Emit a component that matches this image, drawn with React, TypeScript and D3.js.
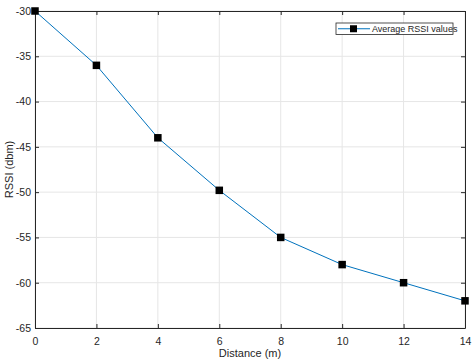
import React, { useEffect, useRef } from 'react';
import * as d3 from 'd3';

const distances = [0, 2, 4, 6, 8, 10, 12, 14];
const rssiValues = [-30, -36, -44, -49.8, -55, -58, -60, -62];
const xTicks = [0, 2, 4, 6, 8, 10, 12, 14];
const yTicks = [-30, -35, -40, -45, -50, -55, -60, -65];
const seriesName = 'Average RSSI values';

export default function App() {
  const ref = useRef<SVGSVGElement>(null);

  useEffect(() => {
    const svgWidth = 474, svgHeight = 361;
    const pad = { top: 11, bottom: 33, left: 35, right: 9 };
    const svg = d3.select(ref.current).attr('width', svgWidth).attr('height', svgHeight);
    svg.selectAll('*').remove();

    const width = svgWidth - pad.left - pad.right;
    const height = svgHeight - pad.top - pad.bottom;
    const axisColor = '#262626';
    const font = 'Liberation Sans, Arial, sans-serif';

    svg.append('rect').attr('width', svgWidth).attr('height', svgHeight).attr('fill', '#fff');

    const graph = svg.append('g').attr('transform', 'translate(' + pad.left + ',' + pad.top + ')');

    const scaleX = d3.scaleLinear().domain([0, 14]).range([0, width]);
    const scaleY = d3.scaleLinear().domain([-65, -30]).range([height, 0]);

    // grid
    graph.append('g').selectAll('line').data(xTicks).enter().append('line')
      .attr('x1', d => scaleX(d)).attr('x2', d => scaleX(d))
      .attr('y1', 0).attr('y2', height)
      .attr('stroke', '#e6e6e6').attr('stroke-width', 1);
    graph.append('g').selectAll('line').data(yTicks).enter().append('line')
      .attr('y1', d => scaleY(d)).attr('y2', d => scaleY(d))
      .attr('x1', 0).attr('x2', width)
      .attr('stroke', '#e6e6e6').attr('stroke-width', 1);

    // box with ticks on all sides
    const tk = 4;
    const plain = (d: any) => String(d);
    const xb = graph.append('g').attr('transform', 'translate(0,' + height + ')')
      .call(d3.axisBottom(scaleX).tickValues(xTicks).tickSize(-tk).tickPadding(10).tickSizeOuter(0).tickFormat(plain));
    const xt = graph.append('g')
      .call(d3.axisTop(scaleX).tickValues(xTicks).tickSize(-tk).tickFormat(() => '').tickSizeOuter(0));
    const yl = graph.append('g')
      .call(d3.axisLeft(scaleY).tickValues(yTicks).tickSize(-tk).tickPadding(4).tickSizeOuter(0).tickFormat(plain));
    const yr = graph.append('g').attr('transform', 'translate(' + width + ',0)')
      .call(d3.axisRight(scaleY).tickValues(yTicks).tickSize(-tk).tickFormat(() => '').tickSizeOuter(0));
    [xb, xt, yl, yr].forEach(a => {
      a.selectAll('path').attr('stroke', axisColor);
      a.selectAll('line').attr('stroke', axisColor);
      a.selectAll('text').attr('fill', axisColor).style('font-family', font).style('font-size', '10.5px');
    });

    // line
    const line = d3.line<number>()
      .x((d, i) => scaleX(distances[i]))
      .y(d => scaleY(d));
    graph.append('path').datum(rssiValues)
      .attr('d', line)
      .attr('fill', 'none')
      .attr('stroke', '#0072bd')
      .attr('stroke-width', 1);

    const ms = 7.5;
    graph.append('g').selectAll('rect').data(rssiValues).enter().append('rect')
      .attr('x', (d, i) => scaleX(distances[i]) - ms / 2)
      .attr('y', d => scaleY(d) - ms / 2)
      .attr('width', ms).attr('height', ms)
      .attr('fill', '#000');

    // axis labels
    svg.append('text')
      .attr('x', pad.left + width / 2).attr('y', 357)
      .attr('text-anchor', 'middle')
      .attr('fill', axisColor)
      .style('font-family', font).style('font-size', '11px')
      .text('Distance (m)');
    svg.append('text')
      .attr('transform', 'translate(13,' + (pad.top + height / 2) + ') rotate(-90)')
      .attr('text-anchor', 'middle')
      .attr('fill', axisColor)
      .style('font-family', font).style('font-size', '11px')
      .text('RSSI (dbm)');

    // legend
    const lg = svg.append('g').attr('transform', 'translate(336,23)');
    lg.append('rect').attr('width', 117).attr('height', 11.5)
      .attr('fill', '#fff').attr('stroke', axisColor).attr('stroke-width', 0.8);
    lg.append('line').attr('x1', 2).attr('x2', 34).attr('y1', 5.75).attr('y2', 5.75)
      .attr('stroke', '#0072bd').attr('stroke-width', 1);
    lg.append('rect').attr('x', 14).attr('y', 2.25).attr('width', 7).attr('height', 7).attr('fill', '#000');
    lg.append('text').attr('x', 36).attr('y', 9.2)
      .attr('fill', axisColor)
      .style('font-family', font).style('font-size', '9px')
      .text(seriesName);
  }, []);

  return (
    <div style={{ position: 'absolute', left: 0, top: 0 }}>
      <svg ref={ref} style={{ display: 'block' }}></svg>
    </div>
  );
}
